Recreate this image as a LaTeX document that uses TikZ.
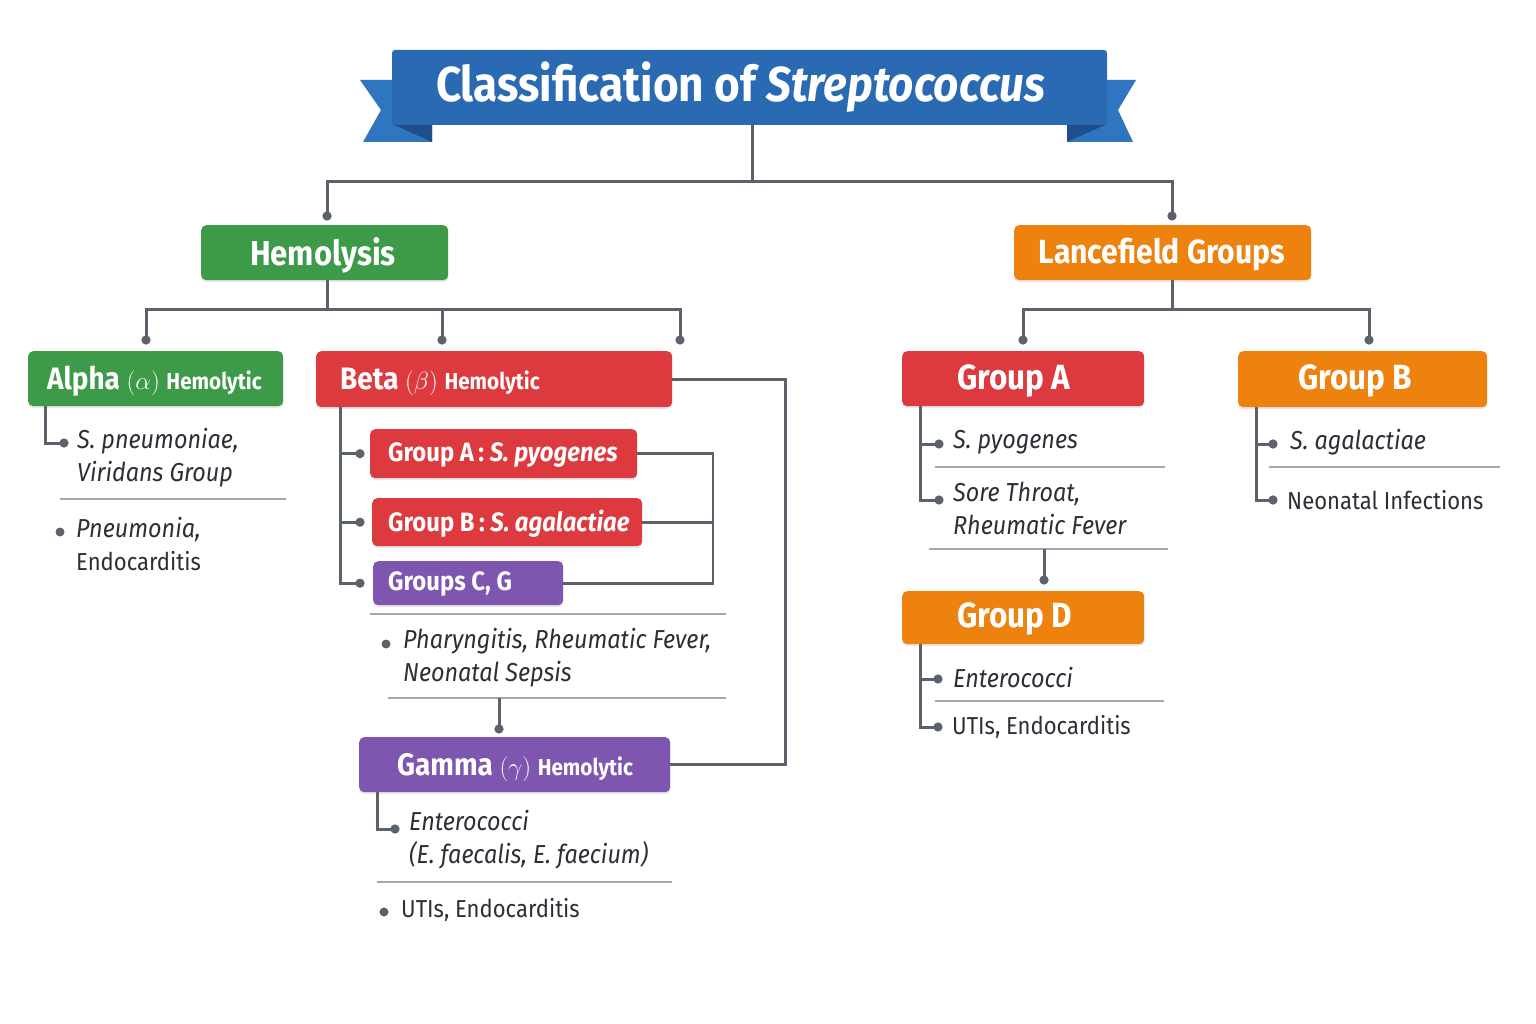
\documentclass[tikz,border=0pt]{standalone}
\usepackage{fontspec}
\setmainfont{Fira Sans}[FakeStretch=0.9]
\usetikzlibrary{arrows.meta,calc,shadows}
\definecolor{bannerblue}{HTML}{2A6AB2}
\definecolor{bannerdark}{HTML}{1E4F8C}
\definecolor{tailblue}{HTML}{2F75C0}
\definecolor{hgreen}{HTML}{3C9A48}
\definecolor{hred}{HTML}{DC3A3F}
\definecolor{horange}{HTML}{EE820F}
\definecolor{hpurple}{HTML}{7E56B0}
\definecolor{linec}{HTML}{5B626B}
\definecolor{sepc}{HTML}{A3A8AE}
\definecolor{txt}{HTML}{2B2F36}
\newcommand\itx{\fontsize{26}{33}\selectfont\itshape}
\tikzset{
  box/.style={rounded corners=5pt, inner sep=0pt, anchor=north west,
    drop shadow={opacity=0.18, shadow xshift=0pt, shadow yshift=-2pt}},
  blab/.style={text=white, anchor=west, inner sep=0pt, font=\bfseries},
  conn/.style={draw=linec, line width=3pt},
  dotend/.style={-{Circle[length=9pt,width=9pt]}},
  sepline/.style={draw=sepc, line width=1.3pt},
  bt/.style={text=txt, anchor=west, inner sep=0pt, align=left,
    font=\fontsize{24.5}{33}\selectfont},
  bul/.style={fill=linec}
}
\begin{document}
\begin{tikzpicture}[x=1pt,y=-1pt]
\useasboundingbox[fill=white] (0,0) rectangle (1536,1024);
% ---- banner
\fill[tailblue] (360,80) -- (432,80) -- (432,142) -- (363,142) -- (381,110) -- cycle;
\fill[bannerdark] (392,124) -- (432,124) -- (432,142) -- cycle;
\fill[tailblue] (1136,80) -- (1067,80) -- (1067,142) -- (1133,142) -- (1118,110) -- cycle;
\fill[bannerdark] (1107,124) -- (1067,124) -- (1067,142) -- cycle;
\node[fill=bannerblue, rounded corners=3pt, minimum width=715, minimum height=75, inner sep=0pt,
  text=white, font=\fontsize{49}{51}\selectfont\bfseries] (banner) at (749.5,87.5)
  {Classification of \textit{Streptococcus}\hspace*{18pt}};
% ---- level 1
\node[box, fill=hgreen, minimum width=247, minimum height=55] (hemo) at (201,225) {};
\node[blab, anchor=center, font=\fontsize{34.5}{36}\selectfont\bfseries] (hemoT) at (323,255) {Hemolysis};
\node[box, fill=horange, minimum width=297, minimum height=55] (lance) at (1014,225) {};
\node[blab, anchor=center, font=\fontsize{33.5}{36}\selectfont\bfseries] (lanceT) at (1162,255) {Lancefield Groups};
\coordinate (tj) at (752,182);
\coordinate (hemoIn) at (327,220.5);
\coordinate (lanceIn) at (1172,220.5);
\draw[conn] (banner.south -| tj) -- (tj);
\draw[conn,dotend] (tj) -| (hemoIn);
\draw[conn,dotend] (tj) -| (lanceIn);
% ---- hemolysis branches
\node[box, fill=hgreen, minimum width=255, minimum height=55] (alpha) at (28,351) {};
\node[blab, font=\fontsize{31}{32}\selectfont\bfseries] (alphaT) at (47,381)
  {Alpha {\mdseries\fontsize{27}{28}\selectfont$(\alpha)$} {\fontsize{23}{25}\selectfont Hemolytic}};
\node[box, fill=hred, minimum width=356, minimum height=56] (beta) at (316,351) {};
\node[blab, font=\fontsize{31}{32}\selectfont\bfseries] (betaT) at (340,382)
  {Beta {\mdseries\fontsize{27}{28}\selectfont$(\beta)$} {\fontsize{23}{25}\selectfont Hemolytic}};
\coordinate (hj) at (327,309);
\coordinate (alphaIn) at (146,344.5);
\coordinate (betaIn) at (442,344.5);
\coordinate (gamIn) at (680,344.5);
\draw[conn] (hemo.south -| hj) -- (hj);
\draw[conn,dotend] (hj) -| (alphaIn);
\draw[conn,dotend] (hj) -| (betaIn);
\draw[conn,dotend] (hj) -| (gamIn);
% ---- alpha details
\coordinate (aS1) at (68.5,443);
\draw[conn,dotend] ($(alpha.south west)+(17,0)$) |- (aS1);
\node[bt] (aS) at (77,457.5) {\itx S. pneumoniae,\\\itx Viridans Group};
\draw[sepline] (60,499) -- (286,499);
\fill[bul] (60,532) circle (4.5);
\node[bt] (aD) at (76,544.5) {\itx Pneumonia,\\Endocarditis};
% ---- beta details
\node[box, fill=hred, minimum width=267, minimum height=49] (bA) at (370,429) {};
\node[blab, font=\fontsize{26.5}{28}\selectfont\bfseries] (bAT) at (388,455) {Group A\,: \textit{S. pyogenes}};
\node[box, fill=hred, minimum width=270, minimum height=48] (bB) at (372,498) {};
\node[blab, font=\fontsize{26.5}{28}\selectfont\bfseries] (bBT) at (388,523.5) {Group B\,: \textit{S. agalactiae}};
\node[box, fill=hpurple, minimum width=190, minimum height=44] (bC) at (373,561) {};
\node[blab, font=\fontsize{26.5}{28}\selectfont\bfseries] (bCT) at (388,584.5) {Groups C, G};
\draw[conn,dotend] ($(beta.south west)+(24,0)$) |- ($(bA.west)+(-5.5,0)$);
\draw[conn,dotend] ($(beta.south west)+(24,0)$) |- ($(bB.west)+(-7.5,0)$);
\draw[conn,dotend] ($(beta.south west)+(24,0)$) |- ($(bC.west)+(-8.5,0)$);
\coordinate (brk) at (713,0);
\draw[conn, line width=2.6pt] (bA.east) -| (bC.east -| brk) -- (bC.east);
\draw[conn, line width=2.6pt] (bB.east) -- (bB.east -| brk);
\draw[sepline] (370,614) -- (726,614);
\fill[bul] (386,644) circle (4.5);
\node[bt] (bD) at (403,657.5) {\itx Pharyngitis, Rheumatic Fever,\\\itx Neonatal Sepsis};
\draw[sepline] (388,698) -- (726,698);
% ---- gamma
\node[box, fill=hpurple, minimum width=311, minimum height=55] (gam) at (359,737) {};
\node[blab, font=\fontsize{31}{32}\selectfont\bfseries] (gamT) at (397,768)
  {Gamma {\mdseries\fontsize{27}{28}\selectfont$(\gamma)$} {\fontsize{23}{25}\selectfont Hemolytic}};
\coordinate (gTop) at (499,733.5);
\draw[conn,dotend] (gam.north -| gTop) ++(0,-39) -- (gTop);
\coordinate (brk2) at (785,0);
\draw[conn] (beta.east) -| (gam.east -| brk2) -- (gam.east);
\coordinate (gS1) at (399.5,829);
\draw[conn,dotend] ($(gam.south west)+(18,0)$) |- (gS1);
\node[bt] (gS) at (409,839.5) {\itx Enterococci\\\itx (E. faecalis, E. faecium)};
\draw[sepline] (377,882) -- (672,882);
\fill[bul] (384,912) circle (4.5);
\node[bt] (gD) at (401,910) {UTIs, Endocarditis};
% ---- Lancefield branches
\coordinate (lj) at (1172,309);
\coordinate (gAIn) at (1023,344.5);
\coordinate (gBIn) at (1369,344.5);
\draw[conn] (lance.south -| lj) -- (lj);
\draw[conn,dotend] (lj) -| (gAIn);
\draw[conn,dotend] (lj) -| (gBIn);
\node[box, fill=hred, minimum width=242, minimum height=55] (gA) at (902,351) {};
\node[blab, font=\fontsize{35}{36}\selectfont\bfseries] (gAT) at (957,381) {Group A};
\node[box, fill=horange, minimum width=249, minimum height=56] (gB) at (1238,351) {};
\node[blab, font=\fontsize{35}{36}\selectfont\bfseries] (gBT) at (1298,381) {Group B};
% group A details
\coordinate (gA1) at (943.5,444);
\coordinate (gA2) at (943.5,500);
\draw[conn,dotend] ($(gA.south west)+(18,0)$) |- (gA1);
\draw[conn,dotend] ($(gA.south west)+(18,0)$) |- (gA2);
\node[bt] (gAS) at (953,442) {\itx S. pyogenes};
\draw[sepline] (935,467) -- (1165,467);
\node[bt] (gAD) at (953,508.5) {\itx Sore Throat,\\\itx Rheumatic Fever};
\draw[sepline] (929,549) -- (1168,549);
\coordinate (gDIn) at (1044,584.5);
\node[box, fill=horange, minimum width=242, minimum height=53] (gD) at (902,591) {};
\node[blab, font=\fontsize{35}{36}\selectfont\bfseries] (gDT) at (957,619) {Group D};
\draw[conn,dotend] (gDIn |- 0,549) -- (gDIn);
% group D details
\coordinate (gD1) at (942.5,679);
\coordinate (gD2) at (942.5,727);
\draw[conn,dotend] ($(gD.south west)+(18,0)$) |- (gD1);
\draw[conn,dotend] ($(gD.south west)+(18,0)$) |- (gD2);
\node[bt] (gDS) at (953,678) {\itx Enterococci};
\draw[sepline] (935,701) -- (1164,701);
\node[bt] (gDD) at (952,727) {UTIs, Endocarditis};
% group B details
\coordinate (gB1) at (1277.5,444);
\coordinate (gB2) at (1277.5,500);
\draw[conn,dotend] ($(gB.south west)+(18,0)$) |- (gB1);
\draw[conn,dotend] ($(gB.south west)+(18,0)$) |- (gB2);
\node[bt] (gBS) at (1290,442) {\itx S. agalactiae};
\draw[sepline] (1269,467) -- (1500,467);
\node[bt] (gBD) at (1287,500) {Neonatal Infections};
\end{tikzpicture}
\end{document}
